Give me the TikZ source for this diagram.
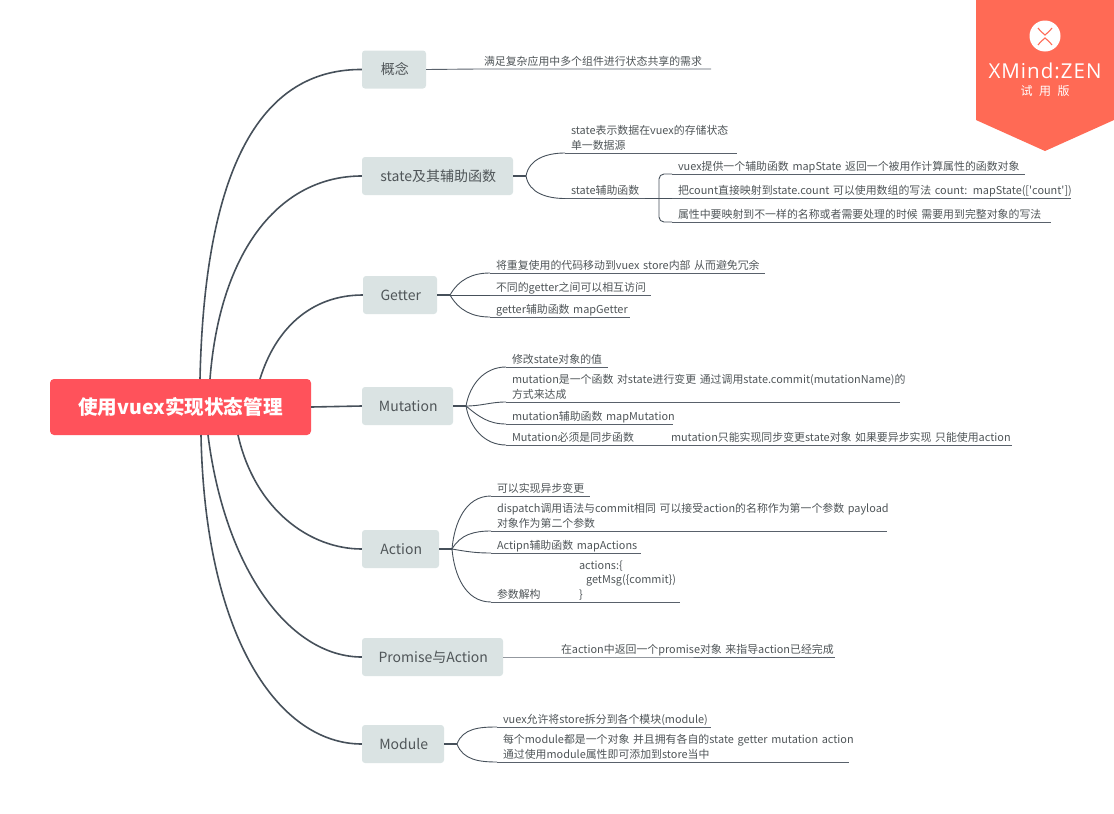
\documentclass[tikz,border=0pt]{standalone}
\usepackage{fontspec}
\usepackage{xcolor}
\usetikzlibrary{positioning}
\setmainfont{Noto Sans CJK SC}
\newfontfamily\logofont[LetterSpace=5]{Open Sans}
\definecolor{rootred}{HTML}{FF525B}
\definecolor{topicgray}{HTML}{DAE3E3}
\definecolor{linedark}{HTML}{46505A}
\definecolor{textgray}{HTML}{4F5558}
\definecolor{logored}{HTML}{FF6A55}
\tikzset{
  root/.style={fill=rootred,rounded corners=4,text=white,minimum width=261,minimum height=56,inner sep=0,font=\fontsize{19.6}{24}\selectfont\bfseries},
  topic/.style={fill=topicgray,rounded corners=3,text=textgray,minimum height=38,inner sep=0,font=\fontsize{14}{18}\selectfont,execute at begin node=\hspace{1.5pt}},
  leaf/.style={anchor=south west,inner xsep=6,inner ysep=0.8,outer sep=0,align=left,text=textgray,font=\fontsize{10.9}{14.5}\selectfont,execute at end node=\rule[-2.8pt]{0pt}{2.8pt}},
  main/.style={draw=linedark,line width=1.6},
  branch/.style={draw=linedark,line width=0.9},
  under/.style={draw=linedark!90,line width=0.9}
}
\begin{document}
\begin{tikzpicture}[x=1pt,y=-1pt]
\useasboundingbox (0,0) rectangle (1114,814);
% centre and main topics
\node[root] (center) at (180.5,407) {使用vuex实现状态管理};
\node[topic,minimum width=64] (concept) at (394,69.5) {概念};
\node[topic,minimum width=151] (state) at (437.5,176) {state及其辅助函数};
\node[topic,minimum width=74] (getter) at (400,295) {Getter};
\node[topic,minimum width=91] (mutation) at (407.5,406) {Mutation};
\node[topic,minimum width=77] (action) at (400.5,549) {Action};
\node[topic,minimum width=141] (promise) at (432.5,657) {Promise与Action};
\node[topic,minimum width=82] (module) at (403,744) {Module};
\coordinate (rootA) at (200,379);
\coordinate (rootB) at (210,379);
\coordinate (rootC) at (260,379);
\coordinate (rootD) at (238,435);
\coordinate (rootE) at (208,435);
\coordinate (rootF) at (201,435);
\draw[main] (rootA) .. controls (205,150) and (270,69) .. (concept.west);
\draw[main] (rootB) .. controls (220,250) and (280,176) .. (state.west);
\draw[main] (rootC) .. controls (275,330) and (310,295) .. (getter.west);
\draw[main] (center.east) -- (mutation.west);
\draw[main] (rootD) .. controls (255,510) and (310,549) .. (action.west);
\draw[main] (rootE) .. controls (225,570) and (290,657) .. (promise.west);
\draw[main] (rootF) .. controls (205,640) and (280,744) .. (module.west);
% concept
\node[leaf,text width=221] (c1) at (478,69) {\mbox{满足复杂应用中多个组件进行状态共享的需求}};
\draw[under] (concept.east) -- (c1.south west) -- (c1.south east);
% state
\coordinate (stateHub) at (526,176);
\draw[main] (state.east) -- (stateHub);
\node[leaf,text width=160] (s1) at (565,153) {\mbox{state表示数据在vuex的存储状态}\\\mbox{单一数据源}};
\node[leaf,text width=68] (s2) at (565,198.5) {\mbox{state辅助函数}};
\draw[under] (s1.south west) -- (s1.south east);
\draw[under] (s2.south west) -- (s2.south east);
\draw[branch] (stateHub) to[out=80,in=180] (s1.south west);
\draw[branch] (stateHub) to[out=-80,in=180] (s2.south west);
\coordinate (s2Hub) at (659,198.5);
\draw[main] (s2.south east) -- (s2Hub);
\node[leaf,text width=341] (s21) at (672,174) {\mbox{vuex提供一个辅助函数 mapState 返回一个被用作计算属性的函数对象}};
\node[leaf,text width=387] (s22) at (672,198.5) {\mbox{把count直接映射到state.count 可以使用数组的写法 count: mapState([\textquotesingle count\textquotesingle])}};
\node[leaf,text width=367] (s23) at (672,222) {\mbox{属性中要映射到不一样的名称或者需要处理的时候 需要用到完整对象的写法}};
\draw[under] (s21.south west) -- (s21.south east);
\draw[under] (s22.south west) -- (s22.south east);
\draw[under] (s23.south west) -- (s23.south east);
\draw[branch,rounded corners=5] (s21.south west) -| (s2Hub) |- (s23.south west);
\draw[branch] (s2Hub) -- (s22.south west);
% getter
\coordinate (getterHub) at (450,295);
\draw[main] (getter.east) -- (getterHub);
\node[leaf,text width=263] (g1) at (490,273) {\mbox{将重复使用的代码移动到vuex store内部 从而避免冗余}};
\node[leaf,text width=149] (g2) at (490,295) {\mbox{不同的getter之间可以相互访问}};
\node[leaf,text width=128] (g3) at (490,317) {\mbox{getter辅助函数 mapGetter}};
\draw[under] (g1.south west) -- (g1.south east);
\draw[under] (g2.south west) -- (g2.south east);
\draw[under] (g3.south west) -- (g3.south east);
\draw[branch] (getterHub) to[out=60,in=180] (g1.south west);
\draw[branch] (getterHub) -- (g2.south west);
\draw[branch] (getterHub) to[out=-60,in=180] (g3.south west);
% mutation
\coordinate (mutationHub) at (466,406);
\draw[main] (mutation.east) -- (mutationHub);
\node[leaf,text width=90] (m1) at (506,367) {\mbox{修改state对象的值}};
\node[leaf,text width=382] (m2) at (506,402) {\mbox{mutation是一个函数 对state进行变更 通过调用state.commit(mutationName)的}\\\mbox{方式来达成}};
\node[leaf,text width=155] (m3) at (506,424) {\mbox{mutation辅助函数 mapMutation}};
\node[leaf,text width=122] (m4) at (506,445) {\mbox{Mutation必须是同步函数}};
\node[leaf,text width=360] (m41) at (640,445) {\mbox{\hspace{25pt}mutation只能实现同步变更state对象 如果要异步实现 只能使用action}};
\draw[under] (m1.south west) -- (m1.south east);
\draw[under] (m2.south west) -- (m2.south east);
\draw[under] (m3.south west) -- (m3.south east);
\draw[under] (m4.south west) -- (m4.south east);
\draw[under] (m4.south east) -- (m41.south west) -- (m41.south east);
\draw[branch] (mutationHub) to[out=80,in=180] (m1.south west);
\draw[branch] (mutationHub) to[out=0,in=180] (m2.south west);
\draw[branch] (mutationHub) to[out=-40,in=180] (m3.south west);
\draw[branch] (mutationHub) to[out=-80,in=180] (m4.south west);
% action
\coordinate (actionHub) at (452,549);
\draw[main] (action.east) -- (actionHub);
\node[leaf,text width=87] (a1) at (491,496) {\mbox{可以实现异步变更}};
\node[leaf,text width=384] (a2) at (491,531) {\mbox{dispatch调用语法与commit相同 可以接受action的名称作为第一个参数 payload}\\\mbox{对象作为第二个参数}};
\node[leaf,text width=138] (a3) at (491,553) {\mbox{Actipn辅助函数 mapActions}};
\node[leaf,text width=42] (a4) at (491,602) {\mbox{参数解构}};
\node[leaf,text width=123] (a41) at (545,602) {\mbox{\hspace{28pt}actions:\{}\\\mbox{\hspace{35pt}getMsg(\{commit\})}\\\mbox{\hspace{28pt}\}}};
\draw[under] (a1.south west) -- (a1.south east);
\draw[under] (a2.south west) -- (a2.south east);
\draw[under] (a3.south west) -- (a3.south east);
\draw[under] (a4.south west) -- (a4.south east);
\draw[under] (a4.south east) -- (a41.south west) -- (a41.south east);
\draw[branch] (actionHub) to[out=85,in=180] (a1.south west);
\draw[branch] (actionHub) to[out=60,in=180] (a2.south west);
\draw[branch] (actionHub) to[out=-10,in=180] (a3.south west);
\draw[branch] (actionHub) to[out=-85,in=180] (a4.south west);
% promise
\node[leaf,text width=268] (p1) at (555,657) {\mbox{在action中返回一个promise对象 来指导action已经完成}};
\draw[under] (promise.east) -- (p1.south west) -- (p1.south east);
% module
\coordinate (moduleHub) at (457,744);
\draw[main] (module.east) -- (moduleHub);
\node[leaf,text width=202] (o1) at (497,727) {\mbox{vuex允许将store拆分到各个模块(module)}};
\node[leaf,text width=340] (o2) at (497,762) {\mbox{每个module都是一个对象 并且拥有各自的state getter mutation action}\\\mbox{通过使用module属性即可添加到store当中}};
\draw[under] (o1.south west) -- (o1.south east);
\draw[under] (o2.south west) -- (o2.south east);
\draw[branch] (moduleHub) to[out=70,in=180] (o1.south west);
\draw[branch] (moduleHub) to[out=-70,in=180] (o2.south west);
% trial badge
\fill[logored] (976,0) -- (1114,0) -- (1114,120) -- (1045,151) -- (976,120) -- cycle;
\fill[white] (1045,36) circle (15.5);
\draw[logored,line width=1.1] (1038,28) .. controls (1041,32) and (1043,33) .. (1045,35) .. controls (1047,33) and (1049,32) .. (1052,28);
\draw[logored,line width=1.1] (1038,45) .. controls (1041,41) and (1043,40) .. (1045,38) .. controls (1047,40) and (1049,41) .. (1052,45);
\node[text=white,inner sep=0,font=\fontsize{20.5}{22}\selectfont\logofont] (badgeName) at (1045,71) {XMind:ZEN};
\node[text=white,inner sep=0,font=\fontsize{12}{14}\selectfont] (badgeTrial) at (1045,90.5) {试\hspace{6.5pt}用\hspace{6.5pt}版};
\end{tikzpicture}
\end{document}
